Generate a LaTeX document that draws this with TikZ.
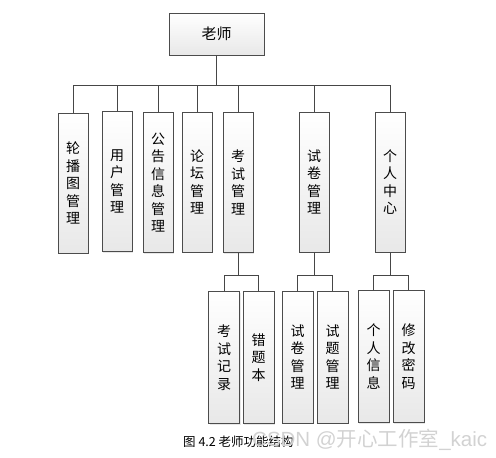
\documentclass[tikz,border=0pt]{standalone}
\usepackage{fontspec}
\newfontfamily\cjk{Noto Sans CJK SC}
\usetikzlibrary{shadows}

\begin{document}
\begin{tikzpicture}[x=1pt,y=-1pt,
  box/.style={draw=gray!60!black,line width=0.9pt,top color=white,bottom color=gray!18,
    drop shadow={shadow xshift=1.2pt,shadow yshift=-1.2pt,fill=gray!35},
    inner sep=0pt,align=center,font=\cjk\fontsize{14}{17.5}\selectfont},
  upper/.style={box,minimum width=30pt,minimum height=140pt},
  lower/.style={box,minimum width=31pt,minimum height=132pt},
  link/.style={draw=gray!55!black,line width=0.9pt}]
\useasboundingbox (0,0) rectangle (496,458);

\node[box,minimum width=95pt,minimum height=42pt,font=\cjk\fontsize{15}{17}\selectfont] (top) at (216.5,34) {老师};

% first level
\node[upper] (lbt)  at (73,183)    {轮\\播\\图\\管\\理};
\node[upper] (yhgl) at (117,181.5) {用\\户\\管\\理};
\node[upper] (ggxx) at (158,182.5) {公\\告\\信\\息\\管\\理};
\node[upper] (ltgl) at (197,182)   {论\\坛\\管\\理};
\node[upper] (ksgl) at (238,182.5) {考\\试\\管\\理};
\node[upper] (sjgl) at (314,182)   {试\\卷\\管\\理};
\node[upper] (grzx) at (390,182)   {个\\人\\中\\心};

% second level
\node[lower] (ksjl)  at (224,357.5)   {考\\试\\记\\录};
\node[lower] (ctb)   at (258.5,357.5) {错\\题\\本};
\node[lower] (sjgl2) at (297.5,357)   {试\\卷\\管\\理};
\node[lower] (stgl)  at (332.5,357)   {试\\题\\管\\理};
\node[lower] (grxx)  at (373.5,356.5) {个\\人\\信\\息};
\node[lower] (xgmm)  at (408.5,356.5) {修\\改\\密\\码};

\coordinate (bus)   at (216.5,85);
\coordinate (ksbus) at (238,275);
\coordinate (sjbus) at (314,275);
\coordinate (grbus) at (390,275);

\draw[link] (top) -- (bus);
\foreach \n in {lbt,yhgl,ggxx,ltgl,ksgl,sjgl,grzx}
  \draw[link] (\n.north) |- (bus);
\draw[link] (ksgl) -- (ksbus);
\draw[link] (sjgl) -- (sjbus);
\draw[link] (grzx) -- (grbus);
\foreach \n/\b in {ksjl/ksbus,ctb/ksbus,sjgl2/sjbus,stgl/sjbus,grxx/grbus,xgmm/grbus}
  \draw[link] (\n.north) |- (\b);

\node[font=\cjk\fontsize{12.5}{14}\selectfont,anchor=west,inner sep=0pt] (cap) at (183,442) {图 4.2\ 老师功能结构};
\node[font=\fontspec{Liberation Sans}\fontsize{20.5}{22}\selectfont,text=gray!35,anchor=west,inner sep=0pt] (wm) at (252,440)
  {CSDN @{\cjk 开心工作室}\_kaic};
\end{tikzpicture}
\end{document}
